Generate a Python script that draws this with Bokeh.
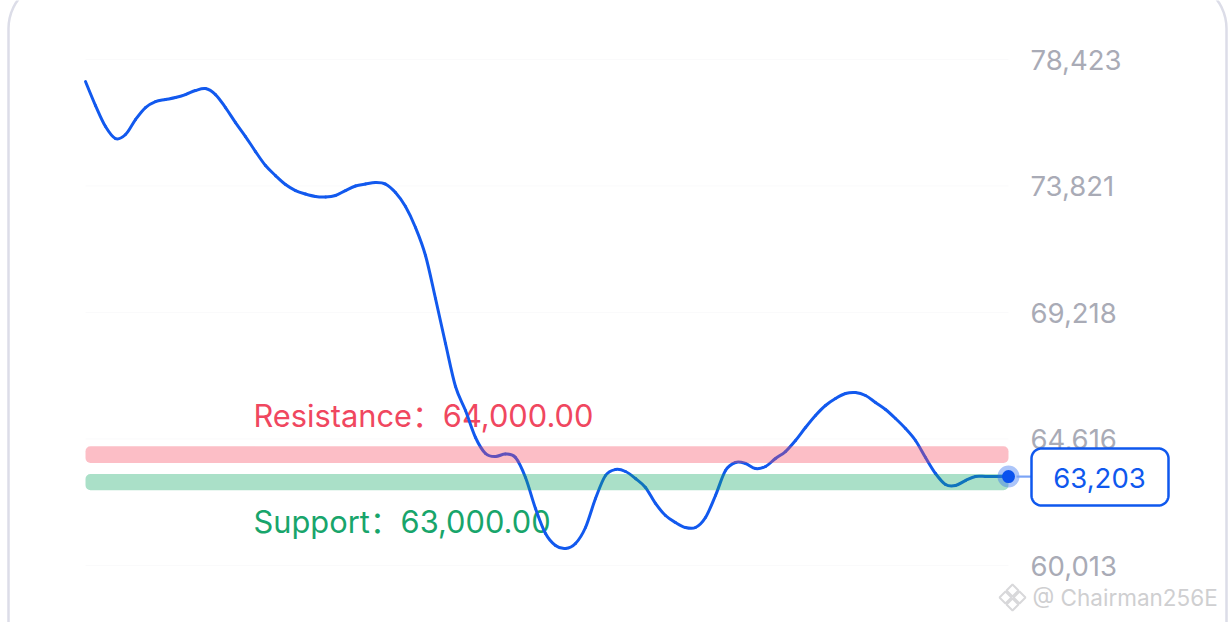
import math
from bokeh.plotting import figure
from bokeh.embed import file_html
from bokeh.resources import INLINE
from bokeh.core.properties import value
from bokeh.models import BoxAnnotation, Label, PolyAnnotation, FixedTicker, Range1d

# --- data ---
step = list(range(93)) + [92.3]
price = [
    77621, 76748, 75984, 75547, 75693, 76238, 76675, 76893, 76966, 77039,
    77148, 77294, 77366, 77148, 76675, 76129, 75620, 75074, 74565, 74201,
    73874, 73656, 73528, 73437, 73419, 73474, 73656, 73819, 73892, 73947,
    73892, 73583, 73073, 72309, 71291, 69726, 68089, 66525, 65652, 64670,
    64088, 63978, 64069, 63942, 63214, 62087, 61177, 60741, 60631, 60813,
    61395, 62450, 63287, 63505, 63433, 63178, 62851, 62269, 61832, 61577,
    61395, 61395, 61759, 62560, 63469, 63760, 63724, 63542, 63615, 63906,
    64160, 64561, 65033, 65470, 65834, 66088, 66270, 66307, 66198, 65943,
    65688, 65361, 64997, 64561, 63942, 63360, 62960, 62923, 63105, 63251,
    63251, 63251, 63251, 63251,
]
y_ticks = [60013, 64616, 69218, 73821, 78423]
y_labels = ["60,013", "64,616", "69,218", "73,821", "78,423"]
resistance = 64000
support = 63000
last_price = 63203
resistance_text = "Resistance：64,000.00"
support_text = "Support：63,000.00"
last_text = "63,203"
watermark = "@ Chairman256E"

FONT = "Inter, Noto Sans CJK SC"
BLUE = "#1259ee"
NUDGE = 45  # the reference draws its levels a pixel above the axis scale


def X(px):
    return (px - 85) / 10


def Y(py):
    return y_ticks[0] + (565 - py) * (y_ticks[-1] - y_ticks[0]) / 506


def rounded(l, t, r, b, rad, n=14):
    xs, ys = [], []
    for cx, cy, a0 in [(r - rad, t + rad, -90), (r - rad, b - rad, 0), (l + rad, b - rad, 90), (l + rad, t + rad, 180)]:
        for k in range(n + 1):
            a = math.radians(a0 + 90 * k / n)
            xs.append(X(cx + rad * math.cos(a)))
            ys.append(Y(cy + rad * math.sin(a)))
    return xs, ys


p = figure(
    width=1228, height=622, output_backend="svg", toolbar_location=None,
    x_axis_location=None, y_axis_location="right",
    x_range=Range1d(X(0), X(1228)), y_range=Range1d(Y(622), Y(0)),
    min_border=0, min_border_left=0, min_border_right=0, min_border_top=0, min_border_bottom=0,
    outline_line_color=None, background_fill_color="white", border_fill_color="white",
)
p.xgrid.visible = False
p.ygrid.visible = False

ax = p.yaxis[0]
ax.ticker = FixedTicker(ticks=y_ticks)
ax.major_label_overrides = dict(zip(y_ticks, y_labels))
ax.axis_line_color = None
ax.major_tick_line_color = None
ax.minor_tick_line_color = None
ax.major_tick_out = 0
ax.major_tick_in = 0
ax.minor_tick_out = 0
ax.minor_tick_in = 0
ax.major_label_standoff = -198
ax.major_label_text_font = "Inter"
ax.major_label_text_font_size = "27.5px"
ax.major_label_text_color = "#a9abb6"

# faint grid, ends at the last data step
p.segment(x0=[step[0]] * 5, x1=[step[-1]] * 5, y0=y_ticks, y1=y_ticks, line_color="#fafafb", line_width=1)

# labels
p.text(x=[16.8], y=[65460], text=[resistance_text], text_font=value(FONT), text_font_size="30.8px",
       text_color="#f0475f", text_baseline="middle")
p.text(x=[16.8], y=[61600], text=[support_text], text_font=value(FONT), text_font_size="30.8px",
       text_color="#18a56b", text_baseline="middle")

# price: smooth curve through the read values (Catmull-Rom control points)
n = len(price)
x0, y0, x1, y1, c0x, c0y, c1x, c1y = [], [], [], [], [], [], [], []
for i in range(n - 1):
    a, b = max(i - 1, 0), min(i + 2, n - 1)
    x0.append(step[i]); y0.append(price[i]); x1.append(step[i + 1]); y1.append(price[i + 1])
    c0x.append(step[i] + (step[i + 1] - step[a]) / 6); c0y.append(price[i] + (price[i + 1] - price[a]) / 6)
    c1x.append(step[i + 1] - (step[b] - step[i]) / 6); c1y.append(price[i + 1] - (price[b] - price[i]) / 6)
p.bezier(x0=x0, y0=y0, x1=x1, y1=y1, cx0=c0x, cy0=c0y, cx1=c1x, cy1=c1y,
         line_color=BLUE, line_width=3, line_cap="round")

# bands sit above the line
p.hbar(y=[resistance + NUDGE], left=step[0], right=step[-1], height=610, fill_color="#f6465d", fill_alpha=0.35,
       line_color=None, border_radius=5)
p.hbar(y=[support + NUDGE], left=step[0], right=step[-1], height=590, fill_color="#0ca662", fill_alpha=0.35,
       line_color=None, border_radius=5)

# last point
p.scatter([step[-1]], [last_price + NUDGE], size=22, marker="circle", fill_color="#2f6ff0", fill_alpha=0.4, line_color=None)
p.scatter([step[-1]], [last_price + NUDGE], size=13, marker="circle", fill_color="#0a52ee", line_color=None)

# card outline
xs, ys = rounded(8, -20, 1226, 720, 48)
p.add_layout(PolyAnnotation(xs=xs, ys=ys, fill_alpha=0, line_color="#dcdde8", line_alpha=1, line_width=2.5))
# connector + callout
p.add_layout(BoxAnnotation(left=X(1016), right=X(1032), top=Y(475), bottom=Y(477.2),
                           fill_color="#7ba4f6", fill_alpha=1, line_color=None))
xs, ys = rounded(1031, 448, 1168, 505, 10)
p.add_layout(PolyAnnotation(xs=xs, ys=ys, fill_color="white", fill_alpha=1, line_color="#0f58ee", line_alpha=1, line_width=2.5))
p.add_layout(Label(x=X(1099), y=Y(477), text=last_text, text_font="Inter",
                   text_font_size="27.5px", text_color="#0f58ee", text_align="center", text_baseline="middle"))

# watermark
cx, cy = 1012, 597
for dx, dy in [(-7, 0), (7, 0), (0, -7), (0, 7)]:
    p.add_layout(PolyAnnotation(
        xs=[X(cx + dx - 6), X(cx + dx), X(cx + dx + 6), X(cx + dx)],
        ys=[Y(cy + dy), Y(cy + dy - 6), Y(cy + dy), Y(cy + dy + 6)],
        fill_color="white", fill_alpha=0.6, line_color="#d8d8da", line_alpha=1, line_width=2))
p.add_layout(Label(x=X(1032), y=Y(597), text=watermark, text_font="Inter",
                   text_font_size="22.5px", text_color="#cfcfd1", text_baseline="middle"))

open("out.html", "w").write(file_html(p, INLINE))
